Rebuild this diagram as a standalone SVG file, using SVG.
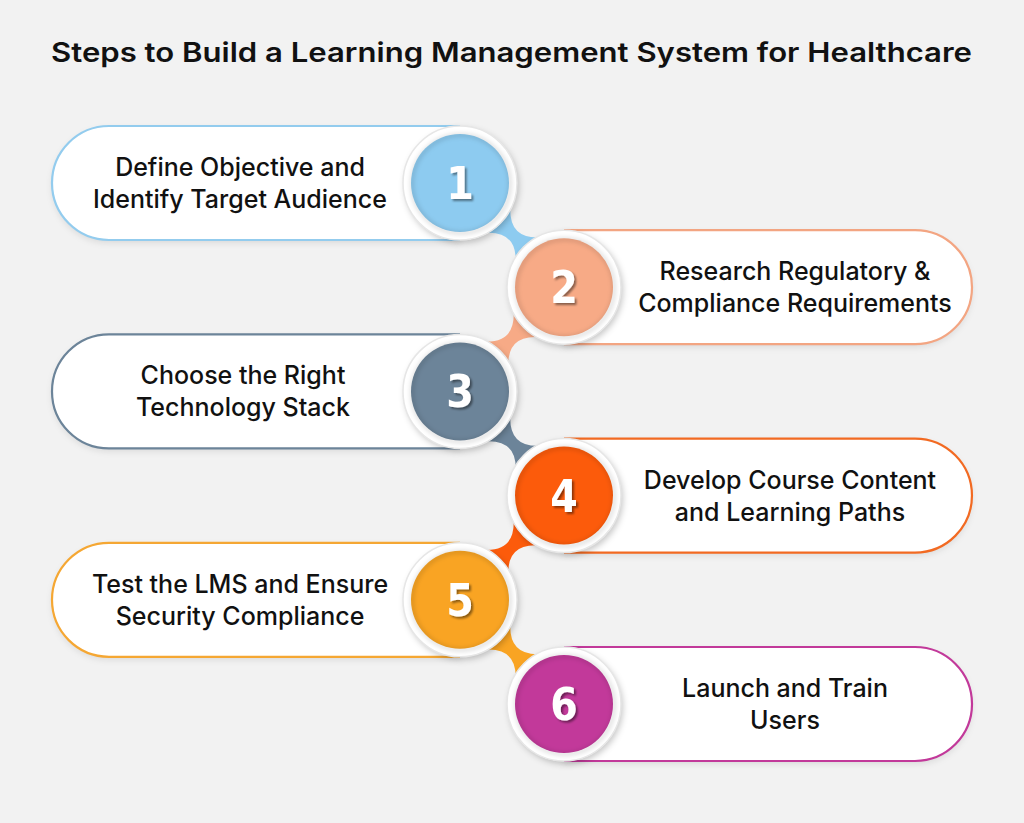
<svg xmlns="http://www.w3.org/2000/svg" width="1024" height="823" viewBox="0 0 1024 823">
<defs>
<filter id="pillShadow" x="-10%" y="-20%" width="120%" height="150%">
<feDropShadow dx="0" dy="3" stdDeviation="3" flood-color="#000" flood-opacity="0.10"/>
</filter>
<filter id="ringShadow" x="-30%" y="-30%" width="160%" height="160%">
<feDropShadow dx="2" dy="3" stdDeviation="3" flood-color="#000" flood-opacity="0.22"/>
</filter>
<filter id="numShadow" x="-30%" y="-30%" width="160%" height="160%">
<feDropShadow dx="2" dy="2" stdDeviation="1.2" flood-color="#000" flood-opacity="0.45"/>
</filter>
<filter id="innerShade" x="-10%" y="-10%" width="120%" height="120%">
<feGaussianBlur stdDeviation="2"/>
</filter>
<path id="neck" d="M48,-24 Q74.3,12 100.6,-24 L100.6,24 Q74.3,-12 48,24 Z"/>
</defs>
<style>
.bg{fill:#f2f2f2}
.title{font-family:Inter,"Noto Sans","Liberation Sans",sans-serif;font-weight:600;font-size:27px;fill:#111}
.lbl{font-family:Inter,"Noto Sans","Liberation Sans",sans-serif;font-weight:500;font-size:25px;fill:#111;text-anchor:middle}
.pillfill{fill:#fff;filter:url(#pillShadow)}
.pillline{fill:none;stroke-width:2.2}
.ring{fill:#fff;filter:url(#ringShadow)}
.ringedge{fill:none;stroke:#e6e6e6;stroke-width:1.5}
.num{font-family:"DejaVu Sans","Liberation Sans",sans-serif;font-stretch:condensed;font-weight:bold;font-size:44px;fill:#fff;text-anchor:middle;filter:url(#numShadow)}
.shade{fill:none;stroke:#000;stroke-opacity:0.12;stroke-width:4;filter:url(#innerShade)}
</style>
<rect class="bg" x="0" y="0" width="1024" height="823"/>
<text class="title" x="51" y="62" textLength="921" lengthAdjust="spacingAndGlyphs">Steps to Build a Learning Management System for Healthcare</text>

<g id="connectors">
<use href="#neck" transform="translate(460,183) rotate(44.5)" fill="#8dcbf0"/>
<use href="#neck" transform="translate(564,287.2) rotate(135.5)" fill="#f7aa86"/>
<use href="#neck" transform="translate(460,391.4) rotate(44.5)" fill="#6c8499"/>
<use href="#neck" transform="translate(564,495.6) rotate(135.5)" fill="#fc5b0b"/>
<use href="#neck" transform="translate(460,599.8) rotate(44.5)" fill="#f9a423"/>
</g>

<g id="step1">
<path class="pillfill" d="M460,126 H109 A57,57 0 0 0 109,240 H460 Z"/>
<path class="pillline" stroke="#93ccee" d="M460,126 H109 A57,57 0 0 0 109,240 H460"/>
<circle class="ring" cx="460" cy="183" r="57"/>
<circle class="ringedge" cx="460" cy="183" r="57"/>
<circle cx="460" cy="183" r="49" fill="#8dcbf0"/>
<circle class="shade" cx="461" cy="184" r="49"/>
<text class="num" x="460" y="199">1</text>
<text class="lbl" x="240" y="176">Define Objective and</text>
<text class="lbl" x="240" y="208">Identify Target Audience</text>
</g>

<g id="step2">
<path class="pillfill" d="M564,230.2 H915 A57,57 0 0 1 915,344.2 H564 Z"/>
<path class="pillline" stroke="#f3a582" d="M564,230.2 H915 A57,57 0 0 1 915,344.2 H564"/>
<circle class="ring" cx="564" cy="287.2" r="57"/>
<circle class="ringedge" cx="564" cy="287.2" r="57"/>
<circle cx="564" cy="287.2" r="49" fill="#f7aa86"/>
<circle class="shade" cx="565" cy="288.2" r="49"/>
<text class="num" x="564" y="303.2">2</text>
<text class="lbl" x="795" y="280.2">Research Regulatory &amp;</text>
<text class="lbl" x="795" y="312.2">Compliance Requirements</text>
</g>

<g id="step3">
<path class="pillfill" d="M460,334.4 H109 A57,57 0 0 0 109,448.4 H460 Z"/>
<path class="pillline" stroke="#6c8499" d="M460,334.4 H109 A57,57 0 0 0 109,448.4 H460"/>
<circle class="ring" cx="460" cy="391.4" r="57"/>
<circle class="ringedge" cx="460" cy="391.4" r="57"/>
<circle cx="460" cy="391.4" r="49" fill="#6c8499"/>
<circle class="shade" cx="461" cy="392.4" r="49"/>
<text class="num" x="460" y="407.4">3</text>
<text class="lbl" x="243" y="384.4">Choose the Right</text>
<text class="lbl" x="243" y="416.4">Technology Stack</text>
</g>

<g id="step4">
<path class="pillfill" d="M564,438.6 H915 A57,57 0 0 1 915,552.6 H564 Z"/>
<path class="pillline" stroke="#f26a22" d="M564,438.6 H915 A57,57 0 0 1 915,552.6 H564"/>
<circle class="ring" cx="564" cy="495.6" r="57"/>
<circle class="ringedge" cx="564" cy="495.6" r="57"/>
<circle cx="564" cy="495.6" r="49" fill="#fc5b0b"/>
<circle class="shade" cx="565" cy="496.6" r="49"/>
<text class="num" x="564" y="511.6">4</text>
<text class="lbl" x="790" y="488.6">Develop Course Content</text>
<text class="lbl" x="790" y="520.6">and Learning Paths</text>
</g>

<g id="step5">
<path class="pillfill" d="M460,542.8 H109 A57,57 0 0 0 109,656.8 H460 Z"/>
<path class="pillline" stroke="#f5a733" d="M460,542.8 H109 A57,57 0 0 0 109,656.8 H460"/>
<circle class="ring" cx="460" cy="599.8" r="57"/>
<circle class="ringedge" cx="460" cy="599.8" r="57"/>
<circle cx="460" cy="599.8" r="49" fill="#f9a423"/>
<circle class="shade" cx="461" cy="600.8" r="49"/>
<text class="num" x="460" y="615.8">5</text>
<text class="lbl" x="240" y="592.8">Test the LMS and Ensure</text>
<text class="lbl" x="240" y="624.8">Security Compliance</text>
</g>

<g id="step6">
<path class="pillfill" d="M564,647 H915 A57,57 0 0 1 915,761 H564 Z"/>
<path class="pillline" stroke="#c2399a" d="M564,647 H915 A57,57 0 0 1 915,761 H564"/>
<circle class="ring" cx="564" cy="704" r="57"/>
<circle class="ringedge" cx="564" cy="704" r="57"/>
<circle cx="564" cy="704" r="49" fill="#c2399a"/>
<circle class="shade" cx="565" cy="705" r="49"/>
<text class="num" x="564" y="720">6</text>
<text class="lbl" x="785" y="697">Launch and Train</text>
<text class="lbl" x="785" y="729">Users</text>
</g>
</svg>
